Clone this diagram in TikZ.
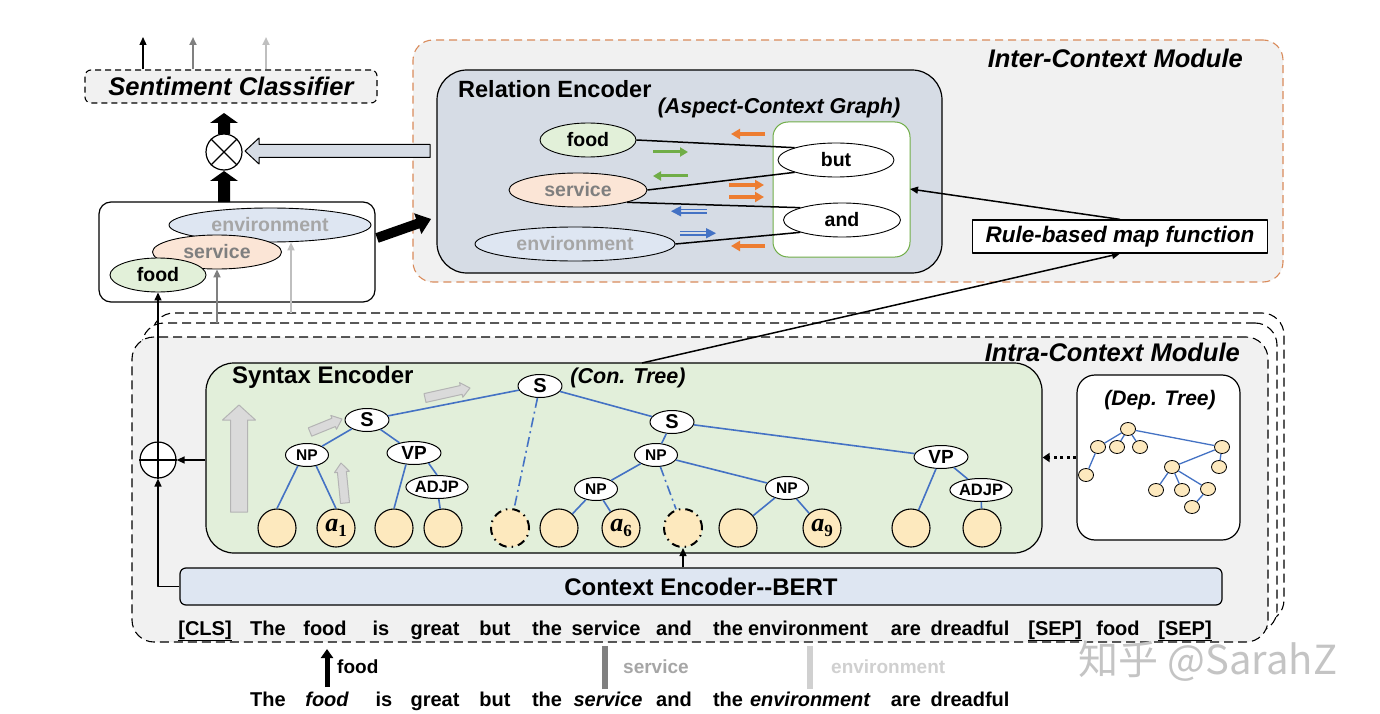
\documentclass[tikz,border=0pt]{standalone}
\usepackage{fontspec}
\setmainfont{Liberation Sans}
\newfontfamily\serfam{Liberation Serif}
\newfontfamily\cjkfam{Noto Sans CJK SC}
\usetikzlibrary{shapes.geometric,arrows.meta,calc}
\newcommand\fzs[1]{\fontsize{#1pt}{#1pt}\selectfont}
\newcommand\aleaf[1]{{\serfam\bfseries\itshape\fzs{26}a}\raisebox{-5pt}{\serfam\bfseries\fzs{17}#1}}
\definecolor{boxgray}{HTML}{F1F1F1}
\definecolor{relfill}{HTML}{D6DCE5}
\definecolor{synfill}{HTML}{E2EFDA}
\definecolor{foodfill}{HTML}{E2F0D9}
\definecolor{servfill}{HTML}{FBE5D6}
\definecolor{envfill}{HTML}{DEE6F2}
\definecolor{leaffill}{HTML}{FDE9BE}
\definecolor{treeblue}{HTML}{4472C4}
\definecolor{interorange}{HTML}{D98B5B}
\definecolor{arrorange}{HTML}{ED7D31}
\definecolor{arrgreen}{HTML}{70AD47}
\definecolor{midgray}{HTML}{808080}
\definecolor{lgray}{HTML}{BFBFBF}
\definecolor{txtgray}{HTML}{A6A6A6}
\definecolor{txtgrayb}{HTML}{7F7F7F}
\definecolor{synarrfill}{HTML}{DADADA}
\definecolor{synarrdraw}{HTML}{B4B4B4}
\definecolor{wmgray}{HTML}{C4C4C4}
\definecolor{envlab}{HTML}{D0D0D0}
\newcommand\blockarr[6][]{%
  \path let \p1=#2, \p2=#3 in \pgfextra{%
    \pgfmathsetmacro\tmpang{atan2(\y2-\y1,\x2-\x1)}\xdef\baang{\tmpang}%
    \pgfmathsetmacro\tmplen{veclen(\x2-\x1,\y2-\y1)}\xdef\balen{\tmplen}%
    \pgfmathsetmacro\tmpx{\x1}\xdef\bax{\tmpx}%
    \pgfmathsetmacro\tmpy{\y1}\xdef\bay{\tmpy}};
  \path[#1, shift={(\bax pt,\bay pt)}, rotate=\baang]
    (0pt,-#4pt) -- (\balen pt-#6pt,-#4pt) -- (\balen pt-#6pt,-#5pt) -- (\balen pt,0pt)
    -- (\balen pt-#6pt,#5pt) -- (\balen pt-#6pt,#4pt) -- (0pt,#4pt) -- cycle;}
\begin{document}
\begin{tikzpicture}[x=1pt,y=-1pt,line join=round,
  lab/.style={inner sep=0pt, font=\fzs{20}\bfseries},
  asp/.style={ellipse, draw, line width=0.9pt, inner sep=0pt, minimum height=34pt, font=\fzs{19.5}\bfseries},
  tn/.style={ellipse, draw, fill=white, line width=1pt, inner sep=0pt, minimum height=23pt, font=\fzs{15.5}\bfseries},
  leaf/.style={circle, draw, fill=leaffill, line width=1.1pt, minimum size=38pt, inner sep=0pt},
  dleaf/.style={leaf, line width=2pt, dash pattern=on 8pt off 5pt on 1.5pt off 5pt},
  te/.style={treeblue, line width=1.6pt},
  tde/.style={te, dash pattern=on 10pt off 4pt on 2pt off 4pt},
  dn/.style={ellipse, draw, fill=leaffill, minimum width=15pt, minimum height=13pt, inner sep=0pt, line width=0.8pt},
  de/.style={treeblue, line width=1.3pt},
  oar/.style={arrorange, line width=3.5pt, -{Triangle[width=10pt,length=9pt]}},
  gar/.style={arrgreen, line width=3pt, -{Triangle[width=9pt,length=8pt]}},
  sar/.style={fill=synarrfill, draw=synarrdraw, line width=1pt},
  ctip/.style={-{Triangle[width=7pt,length=8pt]}},
  bigbox/.style={draw, line width=1.2pt},
  dbox/.style={draw, line width=1.1pt, dash pattern=on 9pt off 5pt, rounded corners=22pt, inner sep=0pt},
  tok/.style={anchor=base, inner sep=0pt, font=\fzs{20}\bfseries},
  tokit/.style={anchor=base, inner sep=0pt, font=\fzs{20}\bfseries\itshape},
]
\useasboundingbox (0,0) rectangle (1380,714);
\fill[white] (0,0) rectangle (1380,714);

% ---------------- Inter-Context Module
\node[draw=interorange, fill=boxgray, line width=1.1pt, dash pattern=on 8pt off 5pt, rounded corners=20pt, minimum width=870pt, minimum height=242pt, inner sep=0pt] (inter) at (848,161) {};
\node[anchor=east, inner sep=0pt, font=\fzs{25.5}\bfseries\itshape] (interlab) at (1243,58) {Inter-Context Module};

\node[bigbox, fill=relfill, rounded corners=30pt, minimum width=505pt, minimum height=203pt, inner sep=0pt] (rel) at (689.5,171.5) {};
\node[anchor=west, inner sep=0pt, font=\fzs{23.5}\bfseries] (rellab) at (458,89) {Relation Encoder};
\node[inner sep=0pt, font=\fzs{21.5}\bfseries\itshape] (acg) at (779,108) {(Aspect-Context Graph)};
\node[draw=arrgreen, fill=white, line width=1pt, rounded corners=15pt, minimum width=137pt, minimum height=135pt, inner sep=0pt] (inner) at (841.5,189.5) {};
\node[asp, fill=foodfill, minimum width=96pt] (rfood) at (588,140) {food};
\node[asp, fill=servfill, minimum width=138pt, text=txtgrayb] (rserv) at (578,190) {service};
\node[asp, fill=envfill, minimum width=200pt, text=txtgray] (renv) at (575,244) {environment};
\node[asp, fill=white, minimum width=116pt] (but) at (836,160) {but};
\node[asp, fill=white, minimum width=117pt] (and) at (842,220) {and};
\draw[line width=1.5pt] (rfood.east) -- (but.north west);
\draw[line width=1.5pt] (rserv.east) -- (but.south west);
\draw[line width=1.5pt] (rserv.south east) -- (and.north west);
\draw[line width=1.5pt] (renv.east) -- (and.south west);

\draw[oar] (765,134) -- (731,134);
\draw[gar] (653,152) -- (688,152);
\draw[gar] (688,176) -- (653,176);
\draw[oar] (729,185) -- (764,185);
\draw[oar] (729,197) -- (764,197);
\draw[oar] (765,246) -- (731,246);
\draw[treeblue, line width=1.2pt] (680,209.5) -- (707,209.5) (680,213) -- (707,213);
\fill[treeblue] (671,211.2) -- (681,206) -- (681,216.5) -- cycle;
\draw[treeblue, line width=1.2pt] (680,231.5) -- (707,231.5) (680,235) -- (707,235);
\fill[treeblue] (716,233.2) -- (706,228) -- (706,238.5) -- cycle;

\node[bigbox, fill=white, minimum width=295pt, minimum height=33pt, inner sep=0pt, font=\fzs{22.5}\bfseries\itshape] (rule) at (1120,236.5) {Rule-based map function};
\coordinate (inr) at (910,189);
\draw[line width=1.5pt, ctip] (rule.north) -- (inr);

% ---------------- Intra-Context Module
\node[dbox, fill=white, minimum width=1132pt, minimum height=309pt] (intra3) at (718,467.5) {};
\node[dbox, fill=white, minimum width=1135pt, minimum height=309pt] (intra2) at (709.5,477.5) {};
\node[dbox, fill=boxgray, minimum width=1136pt, minimum height=305pt] (intra) at (700,489.5) {};
\node[anchor=east, inner sep=0pt, font=\fzs{25.5}\bfseries\itshape] (intralab) at (1240,352) {Intra-Context Module};

\node[bigbox, fill=synfill, rounded corners=28pt, minimum width=836pt, minimum height=190pt, inner sep=0pt] (syn) at (624,458) {};
\node[anchor=west, inner sep=0pt, font=\fzs{24}\bfseries] (synlab) at (232,377) {Syntax Encoder};
\node[inner sep=0pt, font=\fzs{21.5}\bfseries\itshape] (contree) at (628,378) {(Con. Tree)};

\blockarr[sar]{(239,512)}{(239,405)}{8.5}{16.5}{15}
\blockarr[sar]{(310,432)}{(342,419)}{4.5}{7.5}{9}
\blockarr[sar]{(425,398)}{(470,388)}{4.5}{7.5}{9}
\blockarr[sar]{(345,503)}{(341,463)}{4.5}{7.5}{9}

% tree nodes
\node[tn, minimum width=44pt, font=\fzs{20}\bfseries] (s0) at (540,386) {S};
\node[tn, minimum width=44pt, font=\fzs{20}\bfseries] (s1) at (367,420) {S};
\node[tn, minimum width=44pt, font=\fzs{20}\bfseries] (s2) at (672,422) {S};
\node[tn, minimum width=43pt] (np1) at (307,455) {NP};
\node[tn, minimum width=54pt, font=\fzs{19}\bfseries] (vp1) at (414,453) {VP};
\node[tn, minimum width=58pt, font=\fzs{16.5}\bfseries] (adjp1) at (437,487) {ADJP};
\node[tn, minimum width=43pt] (np2) at (656,455) {NP};
\node[tn, minimum width=43pt] (np3) at (596,489) {NP};
\node[tn, minimum width=43pt] (np4) at (787,488) {NP};
\node[tn, minimum width=54pt, font=\fzs{19}\bfseries] (vp2) at (941,457) {VP};
\node[tn, minimum width=58pt, font=\fzs{16.5}\bfseries] (adjp2) at (981,490) {ADJP};

\node[leaf] (l1) at (277,528) {};
\node[leaf] (l2) at (336,528) {\aleaf{1}};
\node[leaf] (l3) at (394,528) {};
\node[leaf] (l4) at (443,528) {};
\node[dleaf] (l5) at (510,528) {};
\node[leaf] (l6) at (559,528) {};
\node[leaf] (l7) at (621,528) {\aleaf{6}};
\node[dleaf] (l8) at (683,528) {};
\node[leaf] (l9) at (738,528) {};
\node[leaf] (l10) at (822,528) {\aleaf{9}};
\node[leaf] (l11) at (911,528) {};
\node[leaf] (l12) at (982,528) {};

\draw[te] (s0) -- (s1);
\draw[te] (s0) -- (s2);
\draw[tde] (s0) -- (l5);
\draw[te] (s1) -- (np1);
\draw[te] (s1) -- (vp1);
\draw[te] (np1.-130) -- (l1.north);
\draw[te] (np1.-50) -- (l2.north);
\draw[te] (vp1.-125) -- (l3.north);
\draw[te] (vp1.-35) -- (adjp1.north);
\draw[te] (adjp1) -- (l4);
\draw[te] (s2) -- (np2);
\draw[te] (s2) -- (vp2);
\draw[te] (np2) -- (np3);
\draw[te] (np2) -- (np4);
\draw[tde] (np2) -- (l8);
\draw[te] (np3) -- (l6);
\draw[te] (np3) -- (l7);
\draw[te] (np4) -- (l9);
\draw[te] (np4) -- (l10);
\draw[te] (vp2) -- (l11);
\draw[te] (vp2) -- (adjp2);
\draw[te] (adjp2) -- (l12);

% dependency tree
\node[bigbox, fill=white, rounded corners=18pt, minimum width=163pt, minimum height=165pt, inner sep=0pt] (dep) at (1158.5,457.5) {};
\node[inner sep=0pt, font=\fzs{21}\bfseries\itshape] (deplab) at (1160,400) {(Dep. Tree)};
\node[dn] (d0) at (1128,429) {};
\node[dn] (c1) at (1098,447) {};
\node[dn] (c2) at (1117,447) {};
\node[dn] (c3) at (1140,447) {};
\node[dn] (c4) at (1222,447) {};
\node[dn] (c1a) at (1086,475) {};
\node[dn] (c4a) at (1219,467) {};
\node[dn] (c4b) at (1172,467) {};
\node[dn] (e1) at (1156,490) {};
\node[dn] (e2) at (1182,490) {};
\node[dn] (e3) at (1208,489) {};
\node[dn] (f1) at (1192,507) {};
\draw[de] (d0) -- (c1);
\draw[de] (d0) -- (c2);
\draw[de] (d0) -- (c3);
\draw[de] (d0) -- (c4);
\draw[de] (c1) -- (c1a);
\draw[de] (c4) -- (c4a);
\draw[de] (c4) -- (c4b);
\draw[de] (c4b) -- (e1);
\draw[de] (c4b) -- (e2);
\draw[de] (c4b) -- (e3);
\draw[de] (e3) -- (f1);
\draw[line width=2.5pt, dash pattern=on 3pt off 3.5pt, -{Triangle[width=9pt,length=7pt]}] (dep.west) -- (dep.west -| syn.east);

% BERT
\node[bigbox, fill=envfill, rounded corners=6pt, minimum width=1042pt, minimum height=37pt, inner sep=0pt, font=\fzs{24}\bfseries] (bert) at (701,586.5) {Context Encoder-{}-BERT};

% tokens
\node[tok] (t1) at (205,635) {\underline{[CLS]}};
\node[tok] (t2) at (268,635) {The};
\node[tok] (t3) at (325,635) {food};
\node[tok] (t4) at (381,635) {is};
\node[tok] (t5) at (435,635) {great};
\node[tok] (t6) at (495,635) {but};
\node[tok] (t7) at (547,635) {the};
\node[tok] (t8) at (606,635) {service};
\node[tok] (t9) at (674,635) {and};
\node[tok] (t10) at (728,635) {the};
\node[tok] (t11) at (808,635) {environment};
\node[tok] (t12) at (906,635) {are};
\node[tok] (t13) at (970,635) {dreadful};
\node[tok] (t14) at (1055,635) {\underline{[SEP]}};
\node[tok] (t15) at (1118,635) {food};
\node[tok] (t16) at (1185,635) {\underline{[SEP]}};

% aspect box (top left)
\node[bigbox, fill=white, rounded corners=12pt, minimum width=276pt, minimum height=100pt, inner sep=0pt] (aspbox) at (237,252) {};
\node[asp, fill=envfill, minimum width=202pt, text=txtgray] (ae) at (270,225) {environment};
\node[asp, fill=servfill, minimum width=129pt, text=txtgrayb] (as) at (217,252) {service};
\node[asp, fill=foodfill, minimum width=96pt] (af) at (158,275) {food};

% operators
\node[circle, draw, fill=white, line width=1.2pt, minimum size=36pt, inner sep=0pt] (op) at (158,460) {};
\draw[line width=1.2pt] (op.north) -- (op.south) (op.west) -- (op.east);
\node[circle, draw, fill=white, line width=1.2pt, minimum size=36pt, inner sep=0pt] (ot) at (224,152) {};
\draw[line width=1.2pt] (ot.north west) -- (ot.south east) (ot.north east) -- (ot.south west);

\draw[line width=1.4pt, ctip] (syn.west |- op) -- (op.east);
\draw[line width=1.4pt, ctip] (bert.west) -| (op.south);
\draw[line width=1.4pt, ctip] (op.north) -- (op.north |- af.south);
\draw[line width=1.4pt, ctip] (bert.north -| l8) -- (l8.south);
\coordinate (synt) at (642,363);
\draw[line width=1.5pt, ctip] (synt) -- (rule.south);
\coordinate (gsv) at (217,323);
\coordinate (genv) at (291,313);
\draw[midgray, line width=2pt, ctip] (gsv) -- (gsv |- as.south);
\draw[lgray, line width=2pt, ctip] (genv) -- (genv |- ae.south);

% sentiment classifier
\node[draw, dash pattern=on 6pt off 4pt, line width=1.1pt, fill=boxgray, rounded corners=6pt, minimum width=292pt, minimum height=33pt, inner sep=0pt, font=\fzs{25.5}\bfseries\itshape] (sc) at (231,86.5) {Sentiment Classifier};
\coordinate (o1) at (143,37);
\coordinate (o2) at (193,37);
\coordinate (o3) at (266,37);
\draw[line width=1.3pt, ctip] (o1 |- sc.north) -- (o1);
\draw[midgray, line width=2pt, ctip] (o2 |- sc.north) -- (o2);
\draw[lgray, line width=2pt, ctip] (o3 |- sc.north) -- (o3);

\blockarr[fill=black]{(224,134)}{(224,113)}{6}{14}{10}
\blockarr[fill=black]{(224,202)}{(224,171)}{6}{14}{10}
\blockarr[fill=relfill, draw=black, line width=1pt]{(430,151)}{(245,151)}{6.5}{13}{14}
\blockarr[fill=black]{(377,238)}{(431,219)}{5}{11}{14}

% bottom legend
\coordinate (bfa) at (327,687);
\coordinate (bfb) at (327,649);
\draw[line width=5pt, -{Triangle[width=12pt,length=9pt]}] (bfa) -- (bfb);
\node[anchor=base west, inner sep=0pt, font=\fzs{19}\bfseries] (bfood) at (337,673) {food};
\coordinate (bsa) at (605,689);
\coordinate (bsb) at (605,646);
\draw[midgray, line width=6pt] (bsa) -- (bsb);
\node[anchor=base west, inner sep=0pt, text=txtgray, font=\fzs{19}\bfseries] (bserv) at (623,673) {service};
\coordinate (bea) at (810,689);
\coordinate (beb) at (810,646);
\draw[envlab, line width=6pt] (bea) -- (beb);
\node[anchor=base west, inner sep=0pt, text=envlab, font=\fzs{19}\bfseries] (benv) at (831,673) {environment};

\node[tok] (s1w) at (268,706) {The};
\node[tokit] (s2w) at (327,706) {food};
\node[tok] (s3w) at (384,706) {is};
\node[tok] (s4w) at (435,706) {great};
\node[tok] (s5w) at (495,706) {but};
\node[tok] (s6w) at (547,706) {the};
\node[tokit] (s7w) at (608,706) {service};
\node[tok] (s8w) at (674,706) {and};
\node[tok] (s9w) at (728,706) {the};
\node[tokit] (s10w) at (810,706) {environment};
\node[tok] (s11w) at (906,706) {are};
\node[tok] (s12w) at (970,706) {dreadful};

\node[anchor=base, inner sep=0pt, text=wmgray, font=\cjkfam\fzs{40}] (wm) at (1208,674) {知乎 @SarahZ};
\end{tikzpicture}
\end{document}
